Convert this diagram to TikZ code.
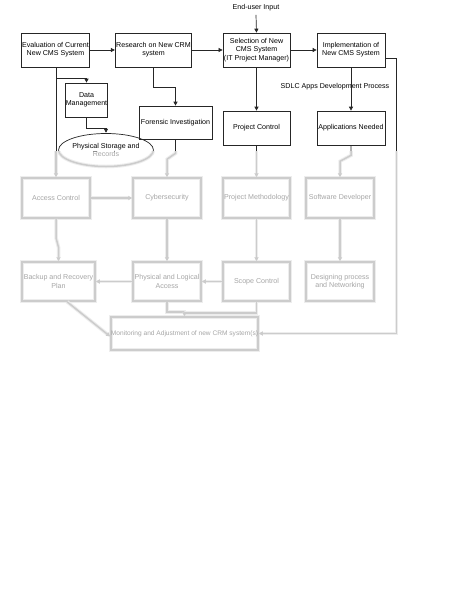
\documentclass[tikz,border=0pt]{standalone}
\usepackage{fontspec}
\setmainfont{Liberation Sans}
\usetikzlibrary{arrows.meta,calc,shapes.geometric}
\tikzset{
  every node/.style={font=\fontsize{7.1}{8.2}\selectfont},
  sharpln/.style={draw=black!85, line width=0.7pt},
  blurln/.style={draw=black!20, line width=1.5pt, preaction={draw=black!7, line width=3.5pt}},
  arr/.style={-{Triangle[length=4pt,width=4pt]}},
  box/.style={sharpln, align=center, inner sep=1pt},
  fbox/.style={blurln, align=center, inner sep=1pt, text=black!35},
}
\newcommand{\crossingparts}{%
  \node[ln, lt, ellipse, align=center, inner sep=0pt, minimum width=68, minimum height=33] (store) at (106,150) {Physical Storage and\\Records};
  \draw[ln,arr] (access.north |- eval.south) -- (access.north);
  \draw[ln,arr] (forensic.south) -- ++(0,14) -- ($(cyber.north)+(0,-18)$) -- (cyber.north);
  \draw[ln,arr] (pc.south) -- (pm.north);
  \draw[ln,arr] (apps.south) -- ++(0,10) -- ($(sd.north)+(0,-16)$) -- (sd.north);
  \draw[ln,arr] ($(impl.east)+(0,8)$) -- ++(11,0) |- (mon.east);
}
\begin{document}
\begin{tikzpicture}[x=1pt,y=-1pt]
\useasboundingbox (0,0) rectangle (474,614);
\fill[white] (0,0) rectangle (474,614);

% top row (sharp)
\node (enduser) at (256,8) {End-user Input};
\node[box, minimum width=67, minimum height=34] (eval) at (55.5,50) {Evaluation of Current\\New CMS System};
\node[box, minimum width=73, minimum height=34] (research) at (153.5,50) {Research on New CRM\\system};
\node[box, minimum width=67, minimum height=34] (select) at (256.5,50) {Selection of New\\CMS System\\(IT Project Manager)};
\node[box, minimum width=68, minimum height=34] (impl) at (351,50) {Implementation of\\New CMS System};
\node[box, inner xsep=0pt, minimum width=39, minimum height=34] (dm) at (86.5,100) {Data\\Management};
\node[box, minimum width=73, minimum height=33] (forensic) at (175.5,122.5) {Forensic Investigation};
\node[box, minimum width=67, minimum height=34] (pc) at (256.5,128) {Project Control};
\node[box, minimum width=68, minimum height=34] (apps) at (351,128) {Applications Needed};
\node (sdlc) at (335,87) {SDLC Apps Development Process};

% lower rows (blurred)
\node[fbox, minimum width=68, minimum height=40] (access) at (56,198) {Access Control};
\node[fbox, minimum width=68, minimum height=40] (cyber) at (167,198) {Cybersecurity};
\node[fbox, minimum width=67, minimum height=40] (pm) at (256.5,198) {Project Methodology};
\node[fbox, minimum width=68, minimum height=40] (sd) at (340,198) {Software Developer};
\node[fbox, minimum width=73, minimum height=39] (backup) at (58.5,281.5) {Backup and Recovery\\Plan};
\node[fbox, minimum width=68, minimum height=39] (phys) at (167,281.5) {Physical and Logical\\Access};
\node[fbox, minimum width=67, minimum height=39] (scope) at (256.5,281.5) {Scope Control};
\node[fbox, minimum width=68, minimum height=39] (design) at (340,281.5) {Designing process\\and Networking};
\node[fbox, inner xsep=0pt, font=\fontsize{6.6}{8}\selectfont, minimum width=145, minimum height=33] (mon) at (184.5,333.5) {Monitoring and Adjustment of new CRM system(s)};

% parts crossing the sharp / blurred boundary
\begin{scope}
  \clip (0,0) rectangle (474,151.5);
  \tikzset{ln/.style={sharpln}, lt/.style={text=black}}
  \crossingparts
\end{scope}
\begin{scope}
  \clip (0,151.5) rectangle (474,614);
  \tikzset{ln/.style={blurln}, lt/.style={text=black!35}}
  \crossingparts
\end{scope}

% sharp connectors
\draw[sharpln,arr] (enduser.south) -- (select.north);
\draw[sharpln,arr] (eval.east) -- (research.west);
\draw[sharpln,arr] (research.east) -- (select.west);
\draw[sharpln,arr] (select.east) -- (impl.west);
\coordinate (j1) at (56,78);
\draw[sharpln,arr] (j1) -| (dm.north);
\draw[sharpln,arr] (dm.south) -- ++(0,11) -| (store.north);
\draw[sharpln,arr] (research.south) -- ++(0,20) -| (forensic.north);
\draw[sharpln,arr] (select.south) -- (pc.north);
\draw[sharpln,arr] (impl.south) -- (apps.north);

% blurred connectors
\draw[blurln,arr] (access.east) -- (cyber.west);
\draw[blurln,arr] (access.south) -- ++(0,19) -- ($(backup.north)+(0,-14)$) -- (backup.north);
\draw[blurln,arr] (cyber.south) -- (phys.north);
\draw[blurln,arr] (pm.south) -- (scope.north);
\draw[blurln,arr] (sd.south) -- (design.north);
\draw[blurln,arr] (phys.west) -- (backup.east);
\draw[blurln,arr] (scope.west) -- (phys.east);
\draw[blurln,arr] ($(backup.south)+(8.5,0)$) -- ($(mon.west)+(0,3)$);
\draw[blurln,arr] (phys.south) -- ++(0,10) -| (mon.north);
\draw[blurln,arr] (scope.south) -- ++(0,11) -| (mon.north);
\end{tikzpicture}
\end{document}
